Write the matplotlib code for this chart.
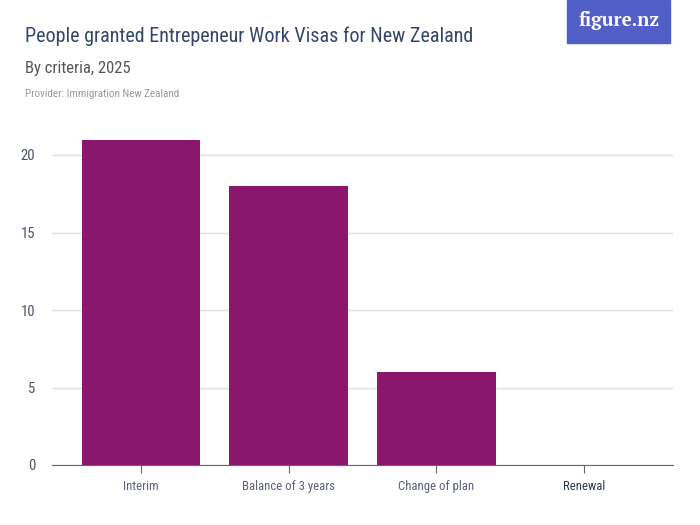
import matplotlib.pyplot as plt
from matplotlib.patches import Rectangle
from matplotlib import font_manager

# data
categories = ['Interim', 'Balance of 3 years', 'Change of plan', 'Renewal']
values = [21, 18, 6, 0]
yticks = [0, 5, 10, 15, 20]

names = {f.name for f in font_manager.fontManager.ttflist}
def pick(cands, default):
    for c in cands:
        if c in names:
            return c
    return default

sans = pick(['Roboto Condensed', 'Archivo Narrow', 'PT Sans Narrow', 'Barlow Condensed'], 'DejaVu Sans')
serif = pick(['PT Serif', 'Alegreya', 'DejaVu Serif'], 'DejaVu Serif')
plt.rcParams['font.family'] = [sans, 'DejaVu Sans']

fig = plt.figure(figsize=(7, 5.25), dpi=100)
ax = fig.add_axes([52/700, 60/525, 621/700, (465-124)/525])

x = list(range(len(categories)))
ax.bar(x, values, width=0.8, color='#8a166e', zorder=2)
ax.set_xlim(-0.6, 3.6)
ax.set_ylim(0, 22)

ax.set_yticks(yticks)
ax.set_yticklabels([str(v) for v in yticks], fontsize=10.5, color='#4a5468')
ax.set_xticks(x)
ax.set_xticklabels(categories, fontsize=9.2, color='#5a6278')
ax.get_xticklabels()[-1].set_color('#2e3a52')
ax.tick_params(axis='y', length=0, pad=12)
ax.tick_params(axis='x', length=6, color='#666666', pad=5)
ax.grid(axis='y', color='#e0e0e0', linewidth=1, zorder=0)
for s in ['top', 'right', 'left']:
    ax.spines[s].set_visible(False)
ax.spines['bottom'].set_color('#666666')
ax.spines['bottom'].set_zorder(3)

fig.text(25/700, 1 - 36/525, 'People granted Entrepeneur Work Visas for New Zealand',
         fontsize=14.5, color='#34466a', va='center', ha='left')
fig.text(25/700, 1 - 69/525, 'By criteria, 2025',
         fontsize=12, color='#555555', va='center', ha='left')
fig.text(25/700, 1 - 94/525, 'Provider: Immigration New Zealand',
         fontsize=8, color='#999999', va='center', ha='left')

# logo
fig.patches.append(Rectangle((567/700, 1 - 43/525), 103/700, 43/525,
                             transform=fig.transFigure, color='#535fc9', zorder=1))
fig.text(619/700, 1 - 20/525, 'figure.nz', fontsize=13.5, color='white',
         family=serif, weight='bold', ha='center', va='center', zorder=2)

fig.savefig('out.png', dpi=100)
